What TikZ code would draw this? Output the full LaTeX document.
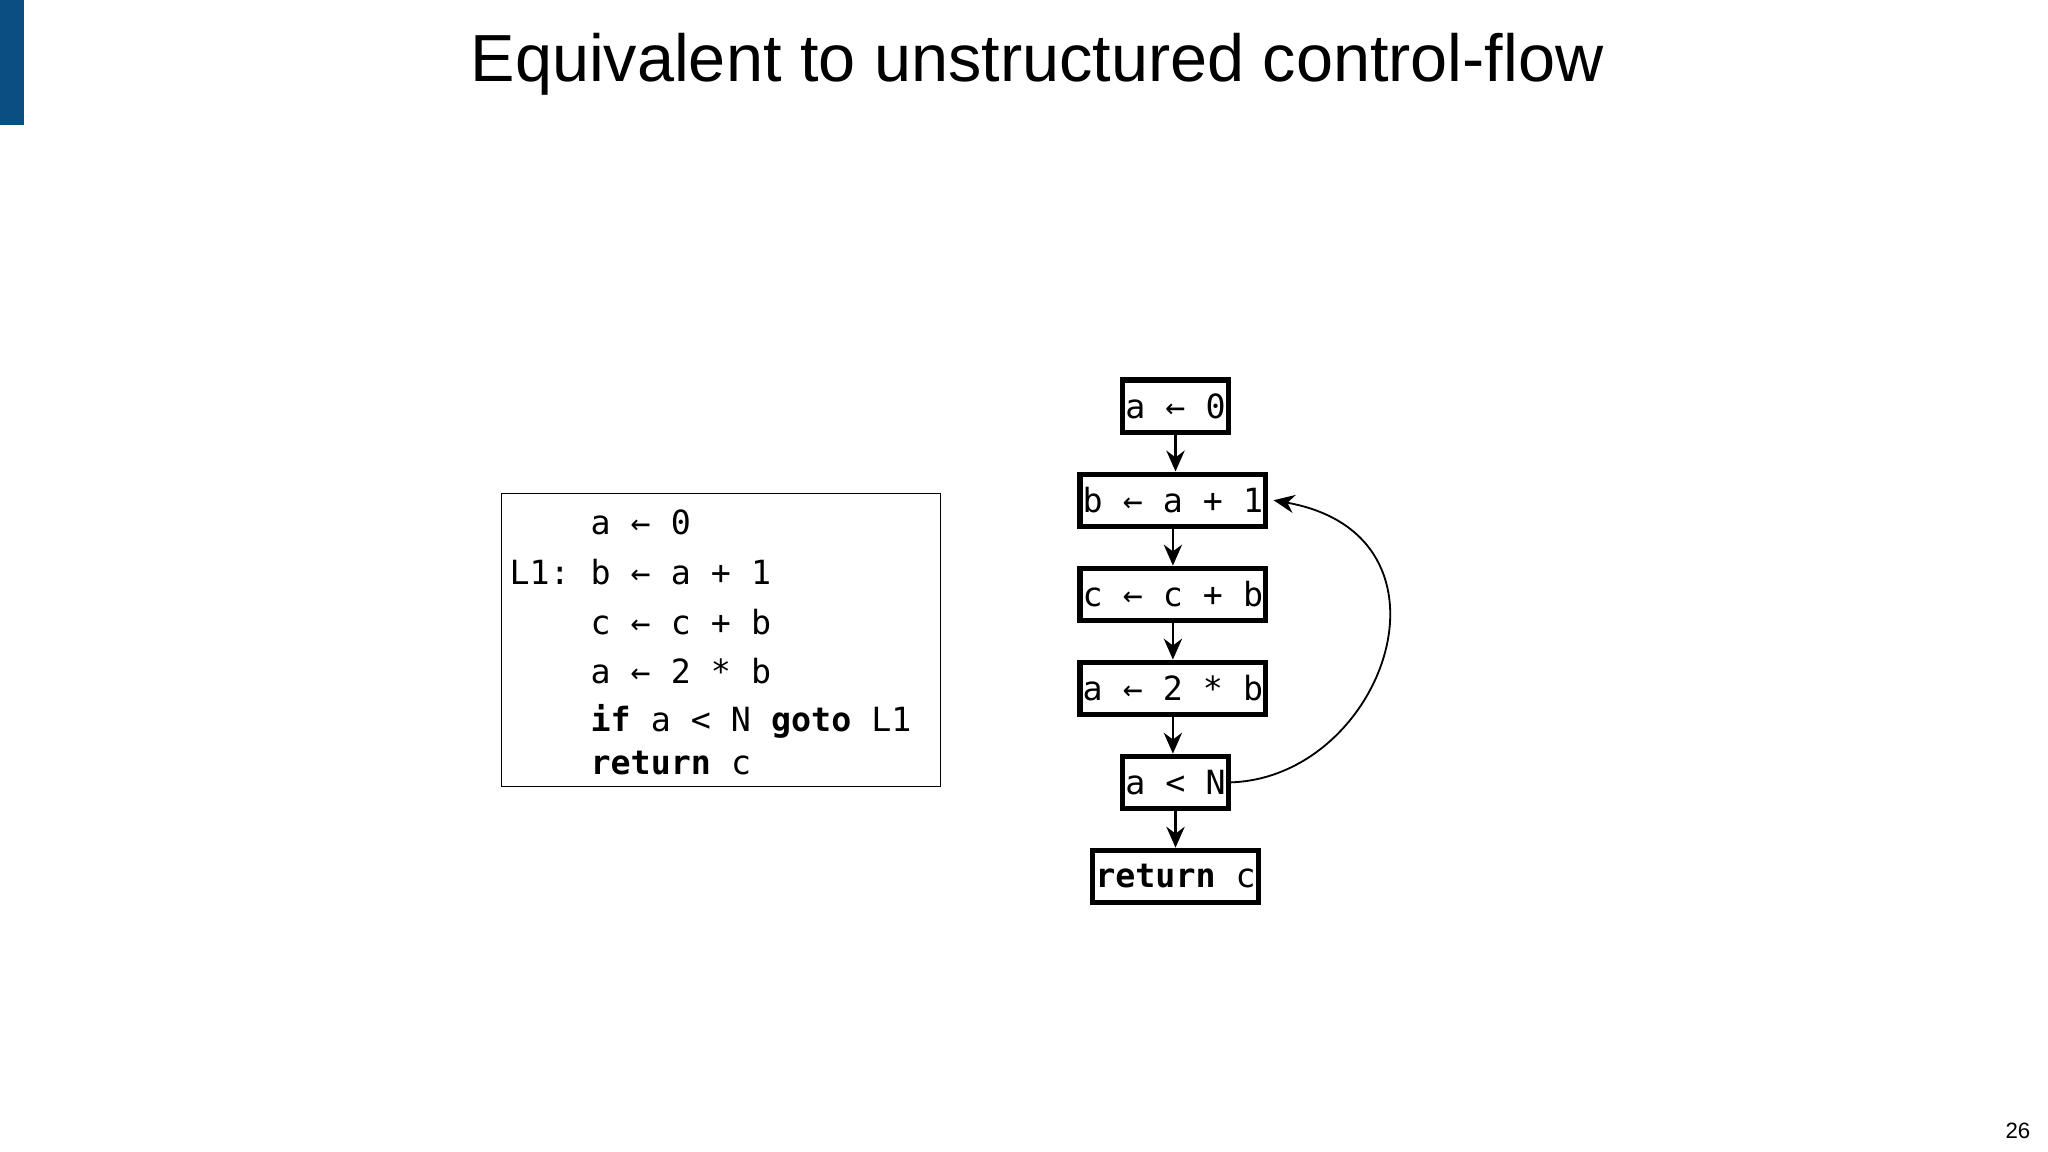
\documentclass[tikz,border=0pt]{standalone}
\usepackage{fontspec}
\setmainfont{Liberation Sans}
\newfontfamily\codefont{DejaVu Sans Mono}
\usetikzlibrary{arrows.meta}
\definecolor{barblue}{HTML}{0B4F82}
\begin{document}
\begin{tikzpicture}[x=1pt,y=-1pt,
  code/.style={font=\codefont\fontsize{25.5}{25.5}\selectfont,anchor=west,inner sep=0},
  blk/.style={draw=black,line width=4pt,font=\codefont\fontsize{25.5}{25.5}\selectfont,minimum height=40pt,inner xsep=2pt,inner ysep=0pt},
  arr/.style={line width=2pt,-{Stealth[length=16pt,width=14pt]}}]
\useasboundingbox (0,0) rectangle (1568,882);
\fill[barblue] (0,0) rectangle (18,96);
\node[font=\fontsize{51}{51}\selectfont] (title) at (794,49) {Equivalent to unstructured control-flow};
\node[font=\fontsize{17}{17}\selectfont] (pg) at (1545,866) {26};
\draw[line width=0.8pt] (384,378) rectangle (720,602);
\node[code] (l1) at (452,400) {a ← 0};
\node[code] (lab) at (390,438) {L1:};
\node[code] (l2) at (452,438) {b ← a + 1};
\node[code] (l3) at (452,476) {c ← c + b};
\node[code] (l4) at (452,514) {a ← 2 * b};
\node[code] (l5) at (452,552) {\textbf{if} a < N \textbf{goto} L1};
\node[code] (l6) at (452,584) {\textbf{return} c};
\node[blk] (n1) at (900,311) {a ← 0};
\node[blk] (n2) at (898,383) {b ← a + 1};
\node[blk] (n3) at (898,455) {c ← c + b};
\node[blk] (n4) at (898,527) {a ← 2 * b};
\node[blk] (n5) at (900,599) {a < N};
\node[blk] (n6) at (900,671) {\textbf{return} c};
\draw[arr] (n1) -- (n1|-n2.north);
\draw[arr] (n2) -- (n2|-n3.north);
\draw[arr] (n3) -- (n3|-n4.north);
\draw[arr] (n4) -- (n4|-n5.north);
\draw[arr] (n5) -- (n5|-n6.north);
\draw[arr,line width=1.4pt] (n5.east) .. controls (1060,595) and (1125,410) .. ([xshift=4pt]n2.east);
\end{tikzpicture}
\end{document}
